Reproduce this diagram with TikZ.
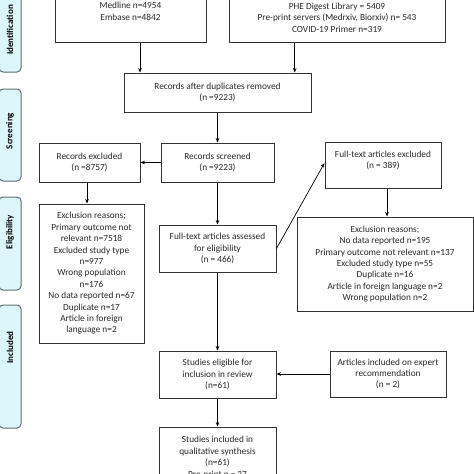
\documentclass[tikz,border=0pt]{standalone}
\usepackage{fontspec}
\setmainfont{Carlito}
\usetikzlibrary{arrows.meta,calc}
\definecolor{sidefill}{RGB}{221,246,250}
\definecolor{sideline}{RGB}{95,110,115}
\definecolor{boxline}{RGB}{50,50,50}
\definecolor{txt}{RGB}{40,40,40}
\begin{document}
\begin{tikzpicture}[x=1pt,y=-1pt,
  box/.style={draw=boxline, line width=1pt, rectangle, align=center, inner sep=2pt,
    font=\fontsize{9.3}{11.4}\selectfont, text=txt},
  side/.style={draw=sideline, fill=sidefill, line width=1pt, rounded corners=4pt,
    rotate=90, font=\fontsize{9}{11}\selectfont\bfseries, text=black, inner sep=0pt,
    minimum height=22pt},
  arr/.style={-{Stealth[length=4.5pt,width=3.6pt]}, line width=0.7pt, black}]
\useasboundingbox (0,0) rectangle (474,474);

% side bars
\node[side, minimum width=84pt] (sid) at (10,30) {Identification};
\node[side, minimum width=92pt] (sscr) at (10,135) {\hspace*{8pt}Screening};
\node[side, minimum width=93pt] (selig) at (10,243.5) {\hspace*{23pt}Eligibility};
\node[side, minimum width=123pt] (sinc) at (10,366.5) {\hspace*{38pt}Included};

% boxes
\node[box, minimum width=151pt, minimum height=61pt] (tl) at (130.5,11.5)
  {Medline n=4954\\Embase n=4842};
\node[box, minimum width=216pt, minimum height=49pt] (tr) at (337,17.5)
  {PHE Digest Library = 5409\\Pre-print servers (Medrxiv, Biorxiv) n= 543\\COVID-19 Primer n=319};
\node[box, minimum width=187pt, minimum height=39pt] (dup) at (217.5,92.5)
  {Records after duplicates removed\\(n =9223)};
\node[box, minimum width=113pt, minimum height=39pt] (scr) at (217.5,162.5)
  {Records screened\\(n =9223)};
\node[box, minimum width=101pt, minimum height=39pt] (exc) at (89.5,162.5)
  {Records excluded\\(n =8757)};
\node[box, minimum width=105pt, minimum height=139pt] (resL) at (91.5,273.5)
  {Exclusion reasons;\\Primary outcome not\\relevant n=7518\\Excluded study type\\n=977\\Wrong population\\n=176\\No data reported n=67\\Duplicate n=17\\Article in foreign\\language n=2};
\node[box, minimum width=117pt, minimum height=47pt] (ass) at (217.5,248.5)
  {Full-text articles assessed\\for eligibility\\(n = 466)};
\node[box, minimum width=116pt, minimum height=46pt] (fte) at (383,165)
  {Full-text articles excluded\\(n = 389)\rule[-10pt]{0pt}{0pt}};
\node[box, minimum width=176pt, minimum height=94pt] (resR) at (385,264)
  {Exclusion reasons;\\No data reported n=195\\Primary outcome not relevant n=137\\Excluded study type n=55\\Duplicate n=16\\Article in foreign language n=2\\Wrong population n=2};
\node[box, minimum width=117pt, minimum height=47pt] (eli) at (217.5,374.5)
  {Studies eligible for\\inclusion in review\\(n=61)};
\node[box, minimum width=116pt, minimum height=46pt] (exp) at (388,374)
  {Articles included on expert\\recommendation\\(n = 2)};
\node[box, minimum width=117pt, minimum height=61pt] (inc) at (217.5,457.5)
  {Studies included in\\qualitative synthesis\\(n=61)\\Pre-print n = 37};

% connectors
\draw[arr] ([xshift=9.5pt]tl.south) -- ([xshift=9.5pt]tl.south |- dup.north);
\draw[arr] ([xshift=-42.3pt]tr.south) -- ([xshift=-42.3pt]tr.south |- dup.north);
\draw[arr] (dup.south) -- (scr.north);
\draw[arr] (scr.west) -- (exc.east);
\draw[arr] ([xshift=-2.5pt]exc.south) -- ([xshift=-2.5pt]exc.south |- resL.north);
\draw[arr] (scr.south) -- (ass.north);
\draw[arr] (ass.east) -- ([yshift=2pt]fte.west);
\draw[arr] ([xshift=4pt]fte.south) -- ([xshift=4pt]fte.south |- resR.north);
\draw[arr] (ass.south) -- (eli.north);
\draw[arr] (exp.west) -- (exp.west -| eli.east);
\draw[arr] (eli.south) -- (inc.north);
\end{tikzpicture}
\end{document}
